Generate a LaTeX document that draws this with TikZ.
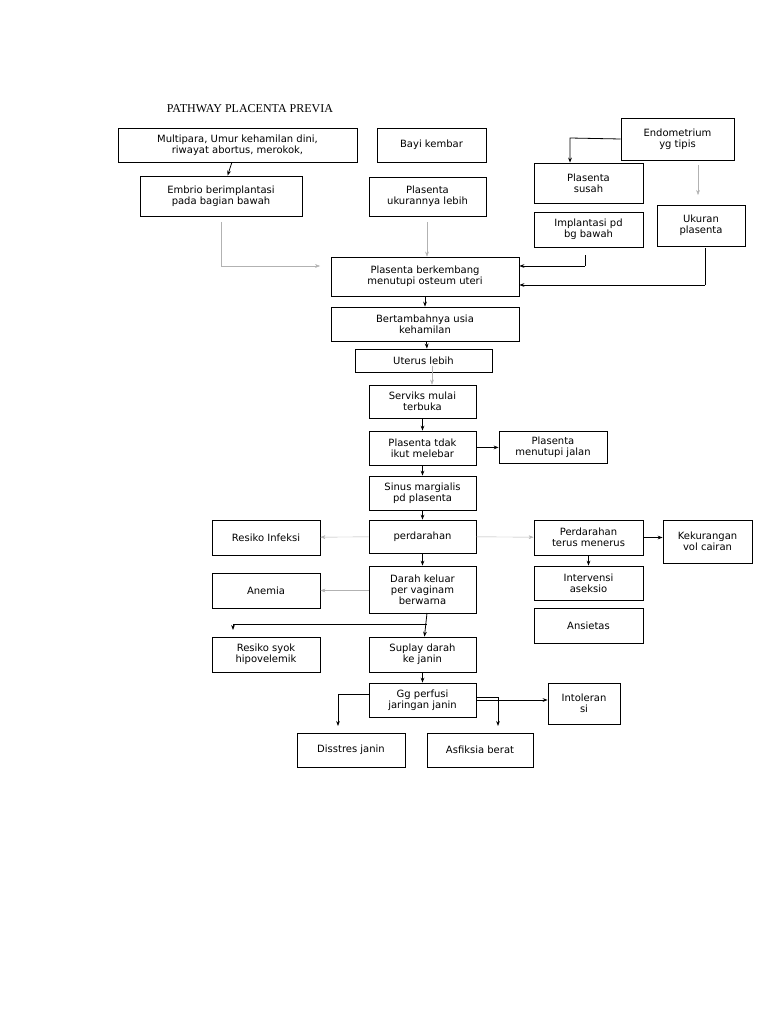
\documentclass[tikz,border=0pt]{standalone}
\usepackage{fontspec}
\setmainfont{DejaVu Sans}
\newfontfamily\titlefont{Liberation Serif}
\usetikzlibrary{arrows.meta,positioning}

\begin{document}
\begin{tikzpicture}[
    x=1pt, y=-1pt,
    font=\fontsize{10}{11}\selectfont,
    box/.style={draw, thick, align=center, inner sep=1pt, anchor=center},
    flow/.style={-{Stealth[length=5pt]}, thick},
    soft/.style={-{Stealth[length=5pt]}, gray!60}
  ]
  \useasboundingbox (0,0) rectangle (768,1024);

  % Title
  \node[font=\titlefont\fontsize{12}{13}\selectfont] (title) at (250,109) {PATHWAY PLACENTA PREVIA};

  % Top row
  \node[box, minimum width=239, minimum height=34] (multi) at (237.5,145) {Multipara, Umur kehamilan dini,\\riwayat abortus, merokok,};
  \node[box, minimum width=109, minimum height=34] (kembar) at (431.5,145) {Bayi kembar};
  \node[box, minimum width=113, minimum height=42] (endo) at (677.5,139) {Endometrium\\yg tipis};
  \node[box, minimum width=162, minimum height=40] (embrio) at (221,196) {Embrio berimplantasi\\pada bagian bawah};
  \node[box, minimum width=117, minimum height=39] (besar) at (427.5,196.5) {Plasenta\\ukurannya lebih};
  \node[box, minimum width=109, minimum height=40] (susah) at (588.5,183) {Plasenta\\susah};
  \node[box, minimum width=109, minimum height=35] (bawah) at (588.5,229.5) {Implantasi pd\\bg bawah};
  \node[box, minimum width=88, minimum height=41] (lebar) at (701,225.5) {Ukuran\\plasenta};

  % Main column
  \node[box, minimum width=188, minimum height=39] (kembang) at (425,276.5) {Plasenta berkembang\\menutupi osteum uteri};
  \node[box, minimum width=188, minimum height=34] (usia) at (425,324) {Bertambahnya usia\\kehamilan};
  \node[box, minimum width=137, minimum height=23] (uterus) at (423.5,360.5) {Uterus lebih};
  \node[box, minimum width=107, minimum height=33] (serviks) at (422.5,401.5) {Serviks mulai\\terbuka};
  \node[box, minimum width=107, minimum height=34] (melebar) at (422.5,448) {Plasenta tdak\\ikut melebar};
  \node[box, minimum width=108, minimum height=32] (jalan) at (553,447) {Plasenta\\menutupi jalan};
  \node[box, minimum width=107, minimum height=34] (sinus) at (422.5,493) {Sinus margialis\\pd plasenta};
  \node[box, minimum width=107, minimum height=33] (darah) at (422.5,536.5) {perdarahan};
  \node[box, minimum width=108, minimum height=35] (infeksi) at (266,537.5) {Resiko Infeksi};
  \node[box, minimum width=109, minimum height=35] (terus) at (588.5,537.5) {Perdarahan\\terus menerus};
  \node[box, minimum width=89, minimum height=43] (cairan) at (707.5,541.5) {Kekurangan\\vol cairan};
  \node[box, minimum width=108, minimum height=35] (anemia) at (266,590.5) {Anemia};
  \node[box, minimum width=107, minimum height=47] (keluar) at (422.5,589.5) {Darah keluar\\per vaginam\\berwarna};
  \node[box, minimum width=109, minimum height=34] (seksio) at (588.5,583) {Intervensi\\aseksio};
  \node[box, minimum width=109, minimum height=35] (ansietas) at (588.5,625.5) {Ansietas};
  \node[box, minimum width=108, minimum height=35] (syok) at (266,654.5) {Resiko syok\\hipovelemik};
  \node[box, minimum width=107, minimum height=35] (suplay) at (422.5,654.5) {Suplay darah\\ke janin};
  \node[box, minimum width=107, minimum height=34] (perfusi) at (422.5,700) {Gg perfusi\\jaringan janin};
  \node[box, minimum width=72, minimum height=41] (intol) at (584,703.5) {Intoleran\\si};
  \node[box, minimum width=108, minimum height=34] (distres) at (351,750) {Disstres janin};
  \node[box, minimum width=106, minimum height=34] (asfiksia) at (480,750) {Asfiksia berat};

  % Connectors
  \draw[flow] (multi) -- (embrio);
  \draw[soft] (427,222) -- (kembang.north -| 427,0);
  \draw[gray!60] (221,222) -- (221,266);
  \draw[soft] (221,266) -- (320,266);
  \draw[flow] (endo.west) -- (570,138) -- (susah.north -| 570,0);
  \draw[soft] (698,165) -- (698,195);
  \draw[thick] (585,255) -- (585,266);
  \draw[flow] (585,266) -- (kembang.east |- 0,266);
  \draw[thick] (705,248) -- (705,285);
  \draw[flow] (705,285) -- (kembang.east |- 0,285);
  \draw[flow] (kembang) -- (usia);
  \draw[flow] (usia) -- (uterus.north -| 427,0);
  \draw[soft] (432,366) -- (serviks.north -| 432,0);
  \draw[flow] (serviks) -- (melebar);
  \draw[flow] (melebar) -- (jalan);
  \draw[flow] (melebar) -- (sinus);
  \draw[flow] (sinus) -- (darah);
  \draw[soft] (darah) -- (infeksi);
  \draw[soft] (darah) -- (terus);
  \draw[flow] (terus) -- (cairan.west |- terus);
  \draw[flow] (terus) -- (seksio);
  \draw[flow] (darah) -- (keluar);
  \draw[soft] (keluar.west |- anemia) -- (anemia);
  \draw[thick] (233,624) -- (427,624);
  \draw[flow] (233,624) -- (233,630);
  \draw[flow] (427,613) -- (suplay);
  \draw[flow] (suplay) -- (perfusi);
  \draw[flow] (perfusi) -- (intol.west |- perfusi);
  \draw[thick] (perfusi.west |- 0,694) -- (338,694);
  \draw[flow] (338,694) -- (338,726);
  \draw[thick] (476,697) -- (498,697);
  \draw[flow] (498,697) -- (498,726);
\end{tikzpicture}
\end{document}
